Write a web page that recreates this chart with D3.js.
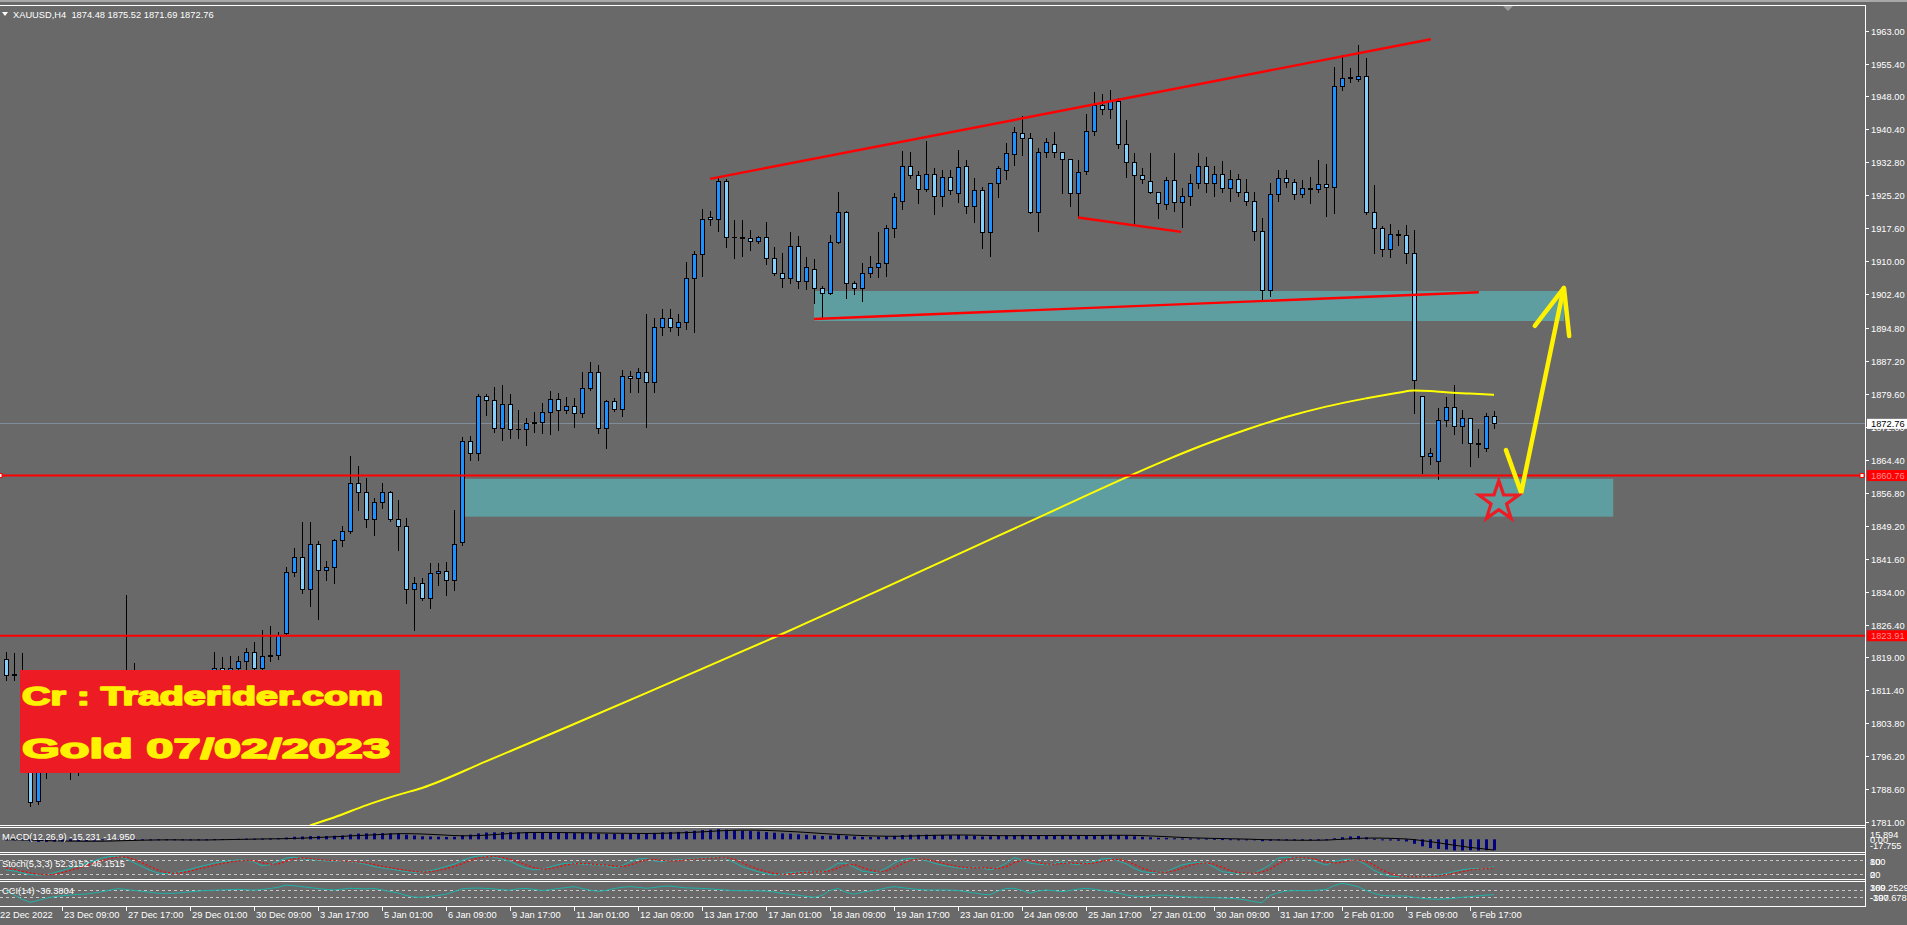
<!DOCTYPE html>
<html><head><meta charset="utf-8">
<script src="https://cdn.jsdelivr.net/npm/d3@7"></script>
<style>
html,body{margin:0;padding:0;background:#696969;overflow:hidden}
svg{display:block}
text{font-family:"Liberation Sans",Arial,sans-serif}
</style></head><body>
<svg id="c" width="1907" height="925"></svg>
<script>
// ---------------- DATA ----------------
const symbolTitle = "XAUUSD,H4";
const headerValues = ["1874.48", "1875.52", "1871.69", "1872.76"];
// [open, high, low, close] per H4 bar, bar 0 = 22 Dec 05:00 ... bar 186 = 7 Feb 05:00
const candles = [
[1818.5,1820.2,1813.7,1814.9],[1814.9,1819.9,1813.7,1815.2],[1815.2,1819.9,1808.0,1810.0],[1810.0,1812.0,1784.8,1785.6],[1785.8,1795.0,1785.2,1794.0],
[1794.0,1797.0,1791.3,1795.0],[1795.0,1799.0,1793.0,1797.0],[1797.0,1801.0,1794.0,1796.0],[1796.0,1806.0,1791.0,1803.0],[1803.0,1811.0,1791.9,1798.0],
[1798.0,1800.0,1795.0,1797.0],[1797.0,1806.0,1796.0,1805.0],[1805.0,1808.0,1803.0,1806.0],[1806.0,1812.0,1805.0,1810.0],[1810.0,1815.0,1808.0,1812.0],
[1812.0,1833.3,1809.0,1814.0],[1814.0,1817.6,1811.0,1813.0],[1813.0,1815.0,1810.0,1812.0],[1812.0,1814.0,1806.0,1808.0],[1808.0,1810.0,1802.0,1804.0],
[1804.0,1808.0,1796.0,1800.0],[1800.0,1806.0,1798.0,1805.0],[1805.0,1808.0,1802.0,1804.0],[1804.0,1807.0,1803.0,1806.0],[1806.0,1810.0,1805.0,1809.0],
[1809.0,1814.0,1807.0,1812.0],[1812.0,1820.2,1810.0,1816.6],[1816.6,1819.1,1813.0,1816.0],[1816.0,1819.2,1812.0,1816.6],[1816.6,1819.2,1814.0,1818.1],
[1818.1,1821.2,1816.0,1820.1],[1820.1,1822.5,1814.0,1816.4],[1816.4,1825.2,1815.0,1819.2],[1819.2,1826.2,1818.0,1819.5],[1819.5,1824.7,1818.5,1824.1],
[1824.6,1839.8,1824.3,1838.5],[1838.5,1844.2,1837.7,1842.0],[1842.0,1850.0,1833.7,1834.6],[1834.6,1850.0,1830.8,1844.9],[1844.9,1845.8,1827.7,1839.0],
[1839.0,1841.0,1836.7,1839.8],[1839.8,1846.2,1836.1,1846.0],[1846.0,1849.2,1844.6,1848.0],[1848.0,1865.2,1847.5,1859.0],[1859.0,1862.9,1852.8,1857.0],
[1857.0,1860.3,1849.0,1850.7],[1850.7,1855.5,1847.1,1854.6],[1854.6,1859.0,1853.2,1856.9],[1856.9,1857.2,1850.2,1850.7],[1850.7,1855.1,1843.6,1849.2],
[1849.2,1850.9,1831.5,1834.6],[1834.6,1837.5,1825.2,1836.0],[1836.0,1837.1,1832.1,1832.7],[1832.7,1840.6,1830.2,1838.3],[1838.3,1840.6,1835.6,1838.9],
[1838.9,1840.9,1833.3,1836.7],[1836.7,1852.8,1834.4,1845.0],[1845.5,1869.7,1844.7,1868.8],[1868.8,1869.9,1864.3,1865.9],[1865.9,1879.5,1864.3,1879.1],
[1879.1,1879.5,1874.7,1878.1],[1878.1,1881.2,1870.8,1871.6],[1871.6,1881.6,1868.9,1877.2],[1877.2,1879.5,1869.3,1871.4],[1871.4,1875.8,1869.3,1871.5],
[1871.5,1873.9,1867.8,1872.8],[1872.8,1875.4,1870.8,1873.1],[1873.1,1877.4,1870.6,1875.3],[1875.3,1880.2,1870.3,1878.3],[1878.3,1879.7,1871.2,1875.8],
[1875.8,1878.9,1875.1,1876.8],[1876.8,1878.5,1872.0,1875.1],[1875.1,1884.6,1874.3,1880.8],[1880.8,1886.8,1880.4,1884.6],[1884.6,1886.2,1870.6,1871.6],
[1871.6,1878.1,1867.2,1877.9],[1877.9,1878.5,1875.5,1876.0],[1876.0,1885.0,1874.5,1883.7],[1883.7,1884.9,1880.0,1883.3],[1883.3,1885.4,1880.0,1884.5],
[1884.5,1898.0,1872.0,1882.3],[1882.3,1897.0,1880.0,1895.0],[1895.0,1899.0,1893.0,1897.0],[1897.0,1899.0,1894.0,1895.0],[1895.0,1898.0,1893.0,1896.1],
[1896.1,1909.9,1894.5,1906.1],[1906.1,1912.4,1893.7,1911.6],[1911.6,1922.1,1906.7,1919.8],[1920.3,1921.6,1918.4,1919.8],[1919.8,1929.1,1916.9,1928.5],
[1928.5,1928.9,1913.4,1915.7],[1915.7,1919.5,1910.9,1915.7],[1915.7,1919.5,1911.3,1915.3],[1915.3,1917.2,1912.6,1914.7],[1914.7,1915.9,1914.2,1915.7],
[1915.7,1919.1,1909.4,1910.9],[1910.9,1913.4,1906.9,1907.3],[1907.3,1911.9,1904.2,1906.3],[1906.3,1916.7,1905.0,1913.6],[1913.6,1915.9,1904.0,1905.6],
[1905.6,1911.1,1903.7,1908.7],[1908.2,1910.6,1900.5,1904.0],[1904.0,1904.3,1896.9,1902.8],[1902.8,1916.1,1902.6,1914.4],[1914.4,1926.0,1914.2,1921.3],
[1921.3,1921.7,1901.7,1905.0],[1905.0,1905.5,1902.4,1904.0],[1904.0,1909.6,1900.9,1907.3],[1907.3,1911.2,1906.5,1908.7],[1908.7,1916.7,1906.5,1909.6],
[1909.6,1918.4,1906.7,1917.6],[1917.6,1925.8,1915.7,1924.9],[1924.0,1935.4,1922.0,1932.0],[1932.0,1935.1,1929.3,1929.9],[1929.9,1930.7,1923.4,1926.6],
[1926.6,1937.8,1926.3,1930.0],[1930.0,1931.4,1920.8,1925.0],[1925.0,1931.0,1922.8,1929.5],[1929.5,1931.0,1925.5,1926.4],[1925.8,1935.6,1923.7,1931.8],
[1932.0,1933.3,1921.1,1922.7],[1922.7,1929.3,1919.0,1926.4],[1926.4,1927.2,1913.2,1916.7],[1916.7,1928.0,1911.3,1928.0],[1928.0,1932.0,1924.9,1931.4],
[1931.0,1937.2,1929.0,1934.9],[1934.7,1941.0,1932.2,1939.7],[1939.6,1943.5,1934.5,1938.5],[1938.5,1939.5,1921.2,1921.4],[1921.4,1936.0,1917.1,1935.1],
[1935.1,1938.3,1934.1,1937.4],[1937.0,1939.7,1934.0,1935.2],[1935.2,1935.2,1925.8,1933.5],[1933.5,1933.5,1922.7,1925.7],[1925.7,1933.3,1920.0,1930.6],
[1930.8,1944.0,1930.0,1940.1],[1940.1,1949.0,1939.0,1946.0],[1946.0,1948.5,1944.0,1945.0],[1945.0,1949.5,1943.0,1947.0],[1947.0,1947.5,1936.0,1936.9],
[1936.9,1942.5,1929.5,1932.8],[1932.8,1935.0,1918.7,1929.9],[1929.8,1931.4,1928.0,1928.9],[1928.5,1934.9,1925.7,1925.9],[1925.9,1925.9,1919.9,1923.4],
[1923.2,1929.5,1922.0,1928.7],[1928.7,1935.0,1921.7,1923.6],[1923.6,1927.0,1918.0,1925.0],[1925.0,1930.0,1923.0,1928.0],[1928.0,1935.0,1927.0,1932.0],
[1932.0,1934.0,1926.0,1928.0],[1928.0,1932.0,1925.0,1930.0],[1930.0,1933.0,1926.0,1927.0],[1927.0,1931.0,1924.0,1929.0],[1929.0,1930.0,1925.0,1926.0],
[1926.0,1929.0,1923.0,1924.0],[1924.0,1926.0,1915.0,1917.0],[1917.0,1920.0,1900.8,1903.5],[1903.5,1928.0,1902.0,1925.5],[1925.5,1931.0,1924.0,1929.3],
[1929.3,1931.0,1927.2,1928.2],[1928.2,1928.9,1924.4,1925.4],[1925.4,1928.7,1924.9,1926.8],[1926.8,1929.5,1923.4,1926.7],[1926.7,1933.3,1925.9,1927.8],
[1927.8,1932.4,1920.5,1927.2],[1927.2,1954.8,1921.2,1950.4],[1950.4,1957.5,1949.5,1952.3],[1952.3,1954.4,1951.3,1952.4],[1952.0,1959.8,1951.6,1952.7],
[1952.7,1956.7,1921.0,1921.3],[1921.3,1927.6,1911.9,1917.6],[1917.6,1918.2,1911.3,1912.8],[1912.8,1918.6,1911.0,1916.4],[1916.4,1917.2,1913.8,1916.1],
[1916.1,1918.4,1909.6,1911.9],[1911.9,1917.2,1875.2,1882.7],[1879.0,1879.0,1861.4,1865.2],[1865.2,1867.0,1863.3,1865.9],[1864.1,1876.2,1859.9,1873.5],
[1873.5,1878.9,1872.2,1876.6],[1876.6,1881.6,1870.2,1872.2],[1872.2,1875.8,1868.3,1873.9],[1873.9,1873.9,1863.0,1868.2],[1868.2,1871.5,1865.1,1868.0],
[1867.0,1875.1,1866.5,1874.5],[1874.48,1875.52,1871.69,1872.76]
];
// moving average line, read at these bars
const maBars   = [38,41,45,49,52,60,70,80,90,96.5,100,110,120,130,140.6,145,150,155,160,165,170,174,176,178,180,183,186];
const maValues = [1780.3,1782.1,1784.9,1787.3,1788.9,1795.0,1802.8,1810.7,1818.7,1823.9,1826.8,1835.1,1843.5,1851.9,1860.8,1864.3,1868.0,1871.3,1874.2,1876.6,1878.5,1879.8,1880.3,1880.2,1879.9,1879.6,1879.3];

const macdMain = [-1,-1,-1.5,-3,-3.5,-3.5,-3.2,-3,-2.5,-2.4,-2.2,-1.8,-1.5,-1.0,-0.6,-0.3,
-0.3,-0.4,-0.6,-0.9,-1.2,-1.1,-1.0,-0.9,-0.6,-0.3,0.2,0.4,0.5,0.7,0.9,0.9,1.0,1.1,1.5,
2.5,3.6,3.9,4.5,4.6,4.6,5.0,5.4,7.0,8.0,8.3,8.5,8.7,8.4,8.0,6.5,5.4,4.3,4.0,3.7,3.3,3.6,
5.5,6.6,8.3,9.5,9.8,10.2,10.0,9.8,9.6,9.4,9.3,9.4,9.2,9.0,8.7,8.9,9.2,8.2,7.8,7.6,8.0,8.2,8.3,8.2,
9.0,9.8,10.2,10.4,11.2,12.0,12.9,13.4,14.2,13.6,12.9,12.2,11.6,11.0,10.2,9.3,
8.3,8.0,7.0,6.5,5.6,4.8,5.1,5.8,4.8,4.0,3.6,3.4,3.5,4.1,4.9,6.0,
6.5,6.4,6.6,6.2,6.1,5.8,6.0,5.3,5.0,4.1,4.3,4.6,5.2,6.0,6.3,5.1,5.3,5.6,5.7,5.6,4.9,4.7,5.2,
5.8,6.0,6.4,5.9,5.2,4.3,3.6,2.9,2.2,2.0,1.5,1.2,1.1,1.3,1.1,0.8,0.4,0.2,-0.2,-0.5,-1.2,-2.6,-2.0,-1.4,
-1.0,-0.9,-0.8,-0.7,-0.5,-0.5,1.5,3.0,4.0,4.6,2.8,0.9,-0.8,-1.6,-2.0,-3.0,-6.3,-9.8,-12.2,-13.5,-14.3,-15.6,-15.6,-15.2,-15.6,-15.2,-15.231];
const macdSignal = [-0.5,-0.6,-0.7,-1.0,-1.4,-1.8,-2.1,-2.3,-2.5,-2.6,-2.7,-2.7,-2.6,-2.4,-2.1,-1.8,
-1.5,-1.2,-1.0,-0.8,-0.7,-0.7,-0.8,-0.9,-0.9,-0.9,-0.7,-0.5,-0.3,-0.1,0.1,0.3,0.5,0.7,0.8,
1.0,1.3,1.7,2.1,2.6,3.1,3.6,4.1,4.8,5.3,5.8,6.3,6.9,7.5,7.9,8.0,7.8,7.5,7.0,6.5,5.9,5.3,
5.0,5.0,5.3,5.9,6.6,7.4,8.2,8.9,9.4,9.6,9.6,9.6,9.5,9.4,9.3,9.2,9.1,9.0,8.8,8.6,8.5,8.4,8.3,8.2,
8.3,8.5,8.7,9.0,9.4,9.9,10.5,11.1,11.8,12.3,12.7,12.9,12.9,12.8,12.5,12.1,
11.6,11.0,10.4,9.7,9.0,8.2,7.5,6.9,6.3,5.8,5.3,4.9,4.6,4.4,4.3,4.4,
4.6,4.9,5.3,5.6,5.9,6.0,6.1,6.0,5.8,5.6,5.4,5.2,5.1,5.1,5.2,5.3,5.3,5.3,5.4,5.5,5.5,5.5,5.4,
5.4,5.5,5.6,5.7,5.7,5.5,5.2,4.8,4.3,3.8,3.2,2.7,2.2,1.9,1.6,1.3,1.1,0.8,0.6,0.3,0.0,-0.4,-0.7,-0.9,
-1.1,-1.2,-1.3,-1.3,-1.2,-1.0,-0.5,0.1,0.7,1.3,1.7,1.8,1.7,1.4,1.0,0.5,-0.4,-1.7,-3.2,-4.8,-6.5,-8.2,-9.8,-11.3,-12.5,-13.8,-14.95];
const stochK = [38,33,25,18,15,17,25,35,46,55, 66,76,88,95,96,86,68,52,36,24, 22,24,32,40,50,58,66,72,76,80,
78,72,55,60,74,88,92,85,82,80, 76,74,74,72,68,62,52,46,42,36, 30,27,29,34,42,52,62,78,90,97,
96,92,84,74,58,45,38,40,50,60, 66,66,62,60,59,56,46,55,72,84, 86,76,73,78,81,83,87,88,90,92,
86,70,52,40,30,22,16,20,26,28, 30,29,28,45,66,66,50,32,28,27, 45,66,82,87,84,78,66,58,52,46,
44,50,46,38,48,66,90,80,66,62, 59,64,72,64,60,68,73,84,87,76, 64,45,30,26,28,30,45,59,66,69,
67,50,30,26,23,23,23,40,60,88, 92,90,86,84,70,58,73,80,83,78, 60,35,20,10,9,9,9,9,12,16,
22,30,38,42,44,42,52.3152];
const stochD = [45,40,32,25,19,17,19,26,35,45, 55,66,77,86,93,92,83,69,52,37, 27,23,26,32,41,49,58,65,71,76,
78,77,68,62,63,74,85,88,86,82, 79,77,75,73,71,67,61,53,47,41, 36,31,29,30,35,43,52,64,77,88,
94,95,91,83,72,59,47,41,43,50, 59,64,65,63,60,58,54,52,58,70, 81,82,78,76,77,81,84,86,88,90,
89,83,69,54,41,31,23,19,21,25, 28,29,29,34,46,59,61,49,37,29, 33,46,64,78,84,83,76,67,59,52,
47,47,47,45,44,51,68,79,79,69, 62,62,65,67,65,64,67,75,81,82, 76,62,46,34,28,28,34,45,57,65,
67,62,49,35,26,24,23,29,41,63, 80,90,89,87,80,71,67,70,79,80, 74,58,38,22,13,9,9,9,10,12,
17,23,30,37,41,43,46.1515];
const cci = [90,-40,-180,-280,-220,-150,-100,-70,-45,-30, -15,20,60,110,160,130,100,70,40,10,
5,10,30,55,80,95,105,115,125,135, 120,110,130,160,200,270,250,220,190,160, 130,115,140,170,160,150,160,120,60,20,
-60,-110,-120,-90,-60,-20,60,150,170,175, 165,150,120,110,150,165,130,100,120,160, 190,220,160,110,70,100,160,200,220,200,
170,190,230,240,210,180,175,165,150,130, 110,95,93,90,88,80,50,10,-20,-50, -90,-120,-60,100,160,40,-20,40,80,120,
180,220,190,160,130,114,114,114,110,100, 61,20,-20,-40,80,160,168,100,10,80, 114,90,61,100,140,168,140,100,61,20,
-45,-80,-98,-80,-50,-50,-80,-98,-110,-115, -120,-130,-145,-152,-170,-205,-260,-290,-60,20,
80,93,93,93,110,130,250,327,280,221, 100,8,-60,-77,-77,-77,-120,-152,-175,-184, -170,-152,-120,-98,-75,-50,-36.38];

const priceTicks = [1963.00,1955.40,1948.00,1940.40,1932.80,1925.20,1917.60,1910.00,1902.40,1894.80,1887.20,1879.60,1872.00,1864.40,1856.80,1849.20,1841.60,1834.00,1826.40,1819.00,1811.40,1803.80,1796.20,1788.60,1781.00];
const timeLabels = ["22 Dec 2022","23 Dec 09:00","27 Dec 17:00","29 Dec 01:00","30 Dec 09:00","3 Jan 17:00","5 Jan 01:00","6 Jan 09:00","9 Jan 17:00","11 Jan 01:00","12 Jan 09:00","13 Jan 17:00","17 Jan 01:00","18 Jan 09:00","19 Jan 17:00","23 Jan 01:00","24 Jan 09:00","25 Jan 17:00","27 Jan 01:00","30 Jan 09:00","31 Jan 17:00","2 Feb 01:00","3 Feb 09:00","6 Feb 17:00"];
const timeLabelBars = [-1,7,15,23,31,39,47,55,63,71,79,87,95,103,111,119,127,135,143,151,159,167,175,183];

const hLevels = [1860.76, 1823.91];
const currentPrice = 1872.76;
// zones: [startBar, endBar, topPrice, bottomPrice]
const zoneStart = [101, 57], zoneEnd = [194.75, 200.9], zoneTop = [1903.2, 1860.0], zoneBottom = [1896.3, 1851.3];
// trend lines [bar1, price1, bar2, price2]
const trendLines = [[88, 1929.0, 178.1, 1961.1],[101, 1896.76, 184.1, 1902.9],[134, 1920.1, 146.9, 1916.8]];
const arrowShaft = [[187.5,1866.6],[189.4,1856.8],[194.7,1903.8]];
const arrowHead  = [[191.1,1895.2],[194.75,1903.9],[195.4,1892.85]];
const starBar = 186.6, starPrice = 1854.8;
const macdLabel = "MACD(12,26,9) -15.231 -14.950";
const stochLabel = "Stoch(5,3,3) 52.3152 46.1515";
const cciLabel = "CCI(14) -36.3804";
const bannerLines = ["Cr : Traderider.com", "Gold 07/02/2023"];

// ---------------- DRAW ----------------
const svg = d3.select("#c");
const PR = 1865; // pane right edge
const x = d3.scaleLinear().domain([0, 186]).range([6, 1494]);
const y = d3.scaleLinear().domain([1781, 1963]).range([822.3, 31]);
const yM = d3.scaleLinear().domain([-17.755, 15.894]).range([852, 828]);
const yS = d3.scaleLinear().domain([0, 100]).range([878.7, 855.3]);
const yC = d3.scaleLinear().domain([-397.678, 369.2529]).range([906, 882]);
const FONT = "'Liberation Sans', Arial, sans-serif";

svg.append("rect").attr("width",1907).attr("height",925).attr("fill","#696969");
svg.append("rect").attr("width",1907).attr("height",2).attr("fill","#a8a8a8");

const defs = svg.append("defs");
defs.append("clipPath").attr("id","mainClip").append("rect").attr("x",0).attr("y",6).attr("width",PR).attr("height",819);
defs.append("clipPath").attr("id","macdClip").append("rect").attr("x",0).attr("y",828).attr("width",PR).attr("height",24);
defs.append("clipPath").attr("id","stClip").append("rect").attr("x",0).attr("y",855).attr("width",PR).attr("height",24);
defs.append("clipPath").attr("id","cciClip").append("rect").attr("x",0).attr("y",882).attr("width",PR).attr("height",24);

const main = svg.append("g").attr("clip-path","url(#mainClip)");

// zones
zoneStart.forEach((s,i)=>{
  main.append("rect").attr("x",x(s)).attr("y",y(zoneTop[i]))
    .attr("width",x(zoneEnd[i])-x(s)).attr("height",y(zoneBottom[i])-y(zoneTop[i]))
    .attr("fill","#5F9EA0");
});
// current price line
main.append("line").attr("x1",0).attr("x2",PR).attr("y1",Math.round(y(currentPrice))+0.5).attr("y2",Math.round(y(currentPrice))+0.5)
  .attr("stroke","#7f8c99").attr("stroke-width",1);

// candles
const cg = main.append("g");
candles.forEach((d,i)=>{
  const [o,h,l,c] = d;
  const cx = Math.round(x(i));
  cg.append("line").attr("x1",cx+0.5).attr("x2",cx+0.5).attr("y1",Math.round(y(h))).attr("y2",Math.round(y(l))+1)
    .attr("stroke","#000").attr("stroke-width",1);
  const t = Math.round(y(Math.max(o,c))), b = Math.round(y(Math.min(o,c)));
  if (b - t < 1) {
    cg.append("line").attr("x1",cx-2).attr("x2",cx+3).attr("y1",t+0.5).attr("y2",t+0.5).attr("stroke","#000");
  } else {
    cg.append("rect").attr("x",cx-1.5).attr("y",t+0.5).attr("width",4).attr("height",b-t)
      .attr("fill", c>=o ? "#1E90FF" : "#87CEFA").attr("stroke","#000").attr("stroke-width",1);
  }
});

// moving average
main.append("path").datum(maBars.map((b,i)=>[b,maValues[i]]))
  .attr("d", d3.line().x(d=>x(d[0])).y(d=>y(d[1])).curve(d3.curveMonotoneX))
  .attr("fill","none").attr("stroke","#FFFF00").attr("stroke-width",2);

// horizontal red levels
hLevels.forEach(v=>{
  main.append("line").attr("x1",0).attr("x2",PR).attr("y1",y(v)).attr("y2",y(v)).attr("stroke","#FF0000").attr("stroke-width",2);
});
// trend lines
trendLines.forEach(t=>{
  main.append("line").attr("x1",x(t[0])).attr("y1",y(t[1])).attr("x2",x(t[2])).attr("y2",y(t[3]))
    .attr("stroke","#FF0000").attr("stroke-width",2.4);
});
// selected-line end markers
[[0,hLevels[0]],[1862,hLevels[0]]].forEach(p=>{
  main.append("rect").attr("x",p[0]-2).attr("y",y(p[1])-2).attr("width",4).attr("height",4)
    .attr("fill","#fff").attr("stroke","#FF0000").attr("stroke-width",1);
});

// yellow arrows
const ln = d3.line().x(d=>x(d[0])).y(d=>y(d[1]));
[arrowShaft, arrowHead].forEach(pts=>{
  main.append("path").attr("d",ln(pts)).attr("fill","none").attr("stroke","#FFF200")
    .attr("stroke-width",4.5).attr("stroke-linecap","round").attr("stroke-linejoin","round");
});
// star
{
  const R = 21, r = 8.2, cx = x(starBar), cy = y(starPrice);
  const pts = d3.range(10).map(k=>{
    const a = -Math.PI/2 + k*Math.PI/5, rad = k%2===0 ? R : r;
    return [cx + rad*Math.cos(a), cy + rad*Math.sin(a)];
  });
  main.append("path").attr("d", d3.line()(pts)+"Z").attr("fill","none").attr("stroke","#EC1C24").attr("stroke-width",3.2).attr("stroke-linejoin","miter");
}

// chart-shift marker
svg.append("path").attr("d","M1503,6 L1513,6 L1508,11 Z").attr("fill","#9a9a9a");

// ---- MACD pane ----
const mg = svg.append("g").attr("clip-path","url(#macdClip)");
macdMain.forEach((v,i)=>{
  const cx = Math.round(x(i));
  const y0 = yM(0), y1 = yM(v);
  mg.append("rect").attr("x",cx-1).attr("y",Math.min(y0,y1)).attr("width",3).attr("height",Math.max(1,Math.abs(y1-y0)))
    .attr("fill","#000080");
});
mg.append("path").datum(macdSignal).attr("d", d3.line().x((d,i)=>x(i)).y(d=>yM(d)))
  .attr("fill","none").attr("stroke","#000").attr("stroke-width",1);

// ---- Stoch pane ----
const sg = svg.append("g").attr("clip-path","url(#stClip)");
[80,20].forEach(v=>sg.append("line").attr("x1",0).attr("x2",PR).attr("y1",Math.round(yS(v))+0.5).attr("y2",Math.round(yS(v))+0.5)
  .attr("stroke","#c8c8c8").attr("stroke-dasharray","3,3"));
sg.append("path").datum(stochK).attr("d", d3.line().x((d,i)=>x(i)).y(d=>yS(d)))
  .attr("fill","none").attr("stroke","#20B2AA").attr("stroke-width",1);
sg.append("path").datum(stochD).attr("d", d3.line().x((d,i)=>x(i)).y(d=>yS(d)))
  .attr("fill","none").attr("stroke","#FF0000").attr("stroke-width",1.2).attr("stroke-dasharray","2,2");

// ---- CCI pane ----
const ccg = svg.append("g").attr("clip-path","url(#cciClip)");
[100,-100].forEach(v=>ccg.append("line").attr("x1",0).attr("x2",PR).attr("y1",Math.round(yC(v))+0.5).attr("y2",Math.round(yC(v))+0.5)
  .attr("stroke","#c8c8c8").attr("stroke-dasharray","3,3"));
ccg.append("path").datum(cci).attr("d", d3.line().x((d,i)=>x(i)).y(d=>yC(d)))
  .attr("fill","none").attr("stroke","#20B2AA").attr("stroke-width",1);

// ---- frames ----
const frame = svg.append("g").attr("stroke","#ffffff").attr("stroke-width",1);
[5.5,825.5,827.5,852.5,854.5,879.5,881.5,906.5].forEach(yy=>frame.append("line").attr("x1",0).attr("x2",PR+0.5).attr("y1",yy).attr("y2",yy));
frame.append("line").attr("x1",PR+0.5).attr("x2",PR+0.5).attr("y1",5).attr("y2",907);

// ---- price axis ----
const ax = svg.append("g").attr("font-family",FONT).attr("font-size",9.3).attr("fill","#ffffff");
priceTicks.forEach(v=>{
  const yy = Math.round(y(v));
  ax.append("line").attr("x1",PR+1).attr("x2",PR+4).attr("y1",yy+0.5).attr("y2",yy+0.5).attr("stroke","#fff");
  ax.append("text").attr("x",1871).attr("y",yy+3.5).text(v.toFixed(2));
});
// level labels
hLevels.forEach(v=>{
  const yy = y(v);
  svg.append("rect").attr("x",1867).attr("y",yy-5.5).attr("width",40).attr("height",11).attr("fill","#FF0000");
  svg.append("text").attr("x",1871).attr("y",yy+3.5).attr("font-family",FONT).attr("font-size",9.3).attr("fill","#ff8c8c").text(v.toFixed(2));
});
{
  const yy = y(currentPrice);
  svg.append("rect").attr("x",1867).attr("y",yy-4.5).attr("width",40).attr("height",10).attr("fill","#ffffff");
  svg.append("text").attr("x",1871).attr("y",yy+3.5).attr("font-family",FONT).attr("font-size",9.3).attr("fill","#000").text(currentPrice.toFixed(2));
}
// indicator axis labels (overlapping as in the original terminal)
const il = svg.append("g").attr("font-family",FONT).attr("font-size",9.3).attr("fill","#ffffff");
[["15.894",834],["0.00",839.3],["-17.755",845.7],["100",861],["80",861],["20",874.3],["0",874.3],["369.2529",887.7],["100",887.7],["-100",897.7],["-397.678",897.7]]
  .forEach(p=>il.append("text").attr("x",1870).attr("y",p[1]+3.5).text(p[0]));

// ---- time axis ----
const tg = svg.append("g").attr("font-family",FONT).attr("font-size",9.3).attr("fill","#ffffff");
timeLabels.forEach((t,i)=>{
  const xx = Math.round(x(timeLabelBars[i]));
  if (i>0) tg.append("line").attr("x1",xx+0.5).attr("x2",xx+0.5).attr("y1",907).attr("y2",911).attr("stroke","#fff");
  tg.append("text").attr("x",xx+2).attr("y",918).text(t);
});

// ---- labels ----
const hl = svg.append("g").attr("font-family",FONT).attr("font-size",9.3).attr("fill","#ffffff");
hl.append("path").attr("d","M2,12 L8,12 L5,16 Z").attr("fill","#fff");
hl.append("text").attr("x",13).attr("y",18).attr("xml:space","preserve").text(symbolTitle + "  " + headerValues.join(" "));
hl.append("text").attr("x",2).attr("y",840).text(macdLabel);
hl.append("text").attr("x",2).attr("y",867).text(stochLabel);
hl.append("text").attr("x",2).attr("y",894).text(cciLabel);

// ---- banner ----
svg.append("rect").attr("x",20).attr("y",670).attr("width",380).attr("height",103).attr("fill","#ED1C24");
svg.append("text").attr("x",22).attr("y",705).attr("font-family","'DejaVu Sans', sans-serif").attr("font-weight","bold")
  .attr("font-size",25).attr("fill","#FFF200").attr("stroke","#FFF200").attr("stroke-width",1.6).attr("stroke-linejoin","round")
  .attr("textLength",361).attr("lengthAdjust","spacingAndGlyphs").text(bannerLines[0]);
svg.append("text").attr("x",22).attr("y",758).attr("font-family","'DejaVu Sans', sans-serif").attr("font-weight","bold")
  .attr("font-size",28).attr("fill","#FFF200").attr("stroke","#FFF200").attr("stroke-width",1.6).attr("stroke-linejoin","round")
  .attr("textLength",368).attr("lengthAdjust","spacingAndGlyphs").text(bannerLines[1]);
</script>
</body></html>
